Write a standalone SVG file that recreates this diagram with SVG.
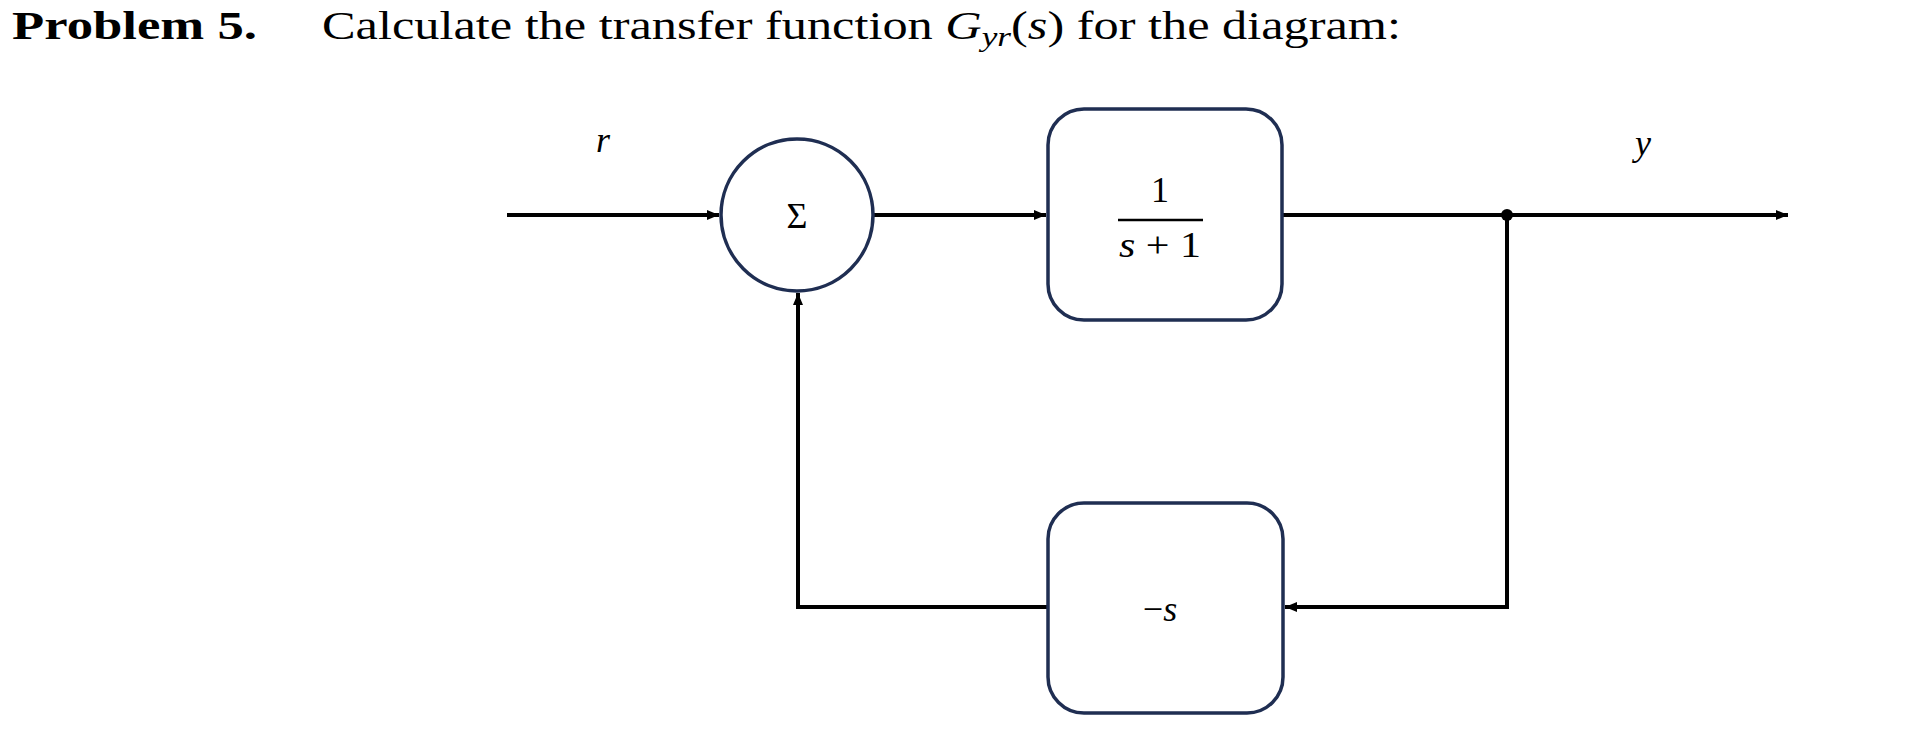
<svg xmlns="http://www.w3.org/2000/svg" width="1924" height="737" viewBox="0 0 1924 737">
<style>
.blk{fill:#fff;stroke:#1f2e52;stroke-width:3.5}
.wire{fill:none;stroke:#000;stroke-width:4;stroke-linejoin:miter}
.math{font-family:"Liberation Serif","DejaVu Serif",serif;fill:#000}
.it{font-style:italic}
.title{font-family:"Liberation Serif","DejaVu Serif",serif;font-size:40px;fill:#000}
</style>
<defs>
<marker id="arr" markerUnits="userSpaceOnUse" markerWidth="14" markerHeight="12" refX="12" refY="6" orient="auto">
<path d="M0,1 L12,6 L0,11 Z" fill="#000"/>
</marker>
</defs>
<rect width="1924" height="737" fill="#fff"/>
<text class="title" x="12" y="39" font-weight="bold" textLength="245" lengthAdjust="spacingAndGlyphs">Problem 5.</text>
<text class="title" x="322" y="39" textLength="1079" lengthAdjust="spacingAndGlyphs">Calculate the transfer function <tspan class="it">G</tspan><tspan class="it" font-size="28" dy="7">yr</tspan><tspan dy="-7">(</tspan><tspan class="it">s</tspan>) for the diagram:</text>

<g id="connectors">
<path class="wire" d="M507,215 H719" marker-end="url(#arr)"/>
<path class="wire" d="M873,215 H1046" marker-end="url(#arr)"/>
<path class="wire" d="M1282,215 H1788" marker-end="url(#arr)"/>
<path class="wire" d="M1507,215 V607 H1285" marker-end="url(#arr)"/>
<path class="wire" d="M1048,607 H798 V293" marker-end="url(#arr)"/>
<circle cx="1507" cy="215" r="6" fill="#000"/>
<text class="math it" x="603" y="152" font-size="36" text-anchor="middle">r</text>
<text class="math it" x="1643" y="155" font-size="36" text-anchor="middle">y</text>
</g>

<g id="sum">
<circle class="blk" cx="797" cy="215" r="76"/>
<text class="math" x="797" y="228" font-size="36" text-anchor="middle">Σ</text>
</g>

<g id="plant">
<rect class="blk" x="1048" y="109" width="234" height="211" rx="36"/>
<text class="math" x="1160" y="202" font-size="36" text-anchor="middle">1</text>
<line x1="1118" y1="220" x2="1203" y2="220" stroke="#000" stroke-width="2.5"/>
<text class="math" x="1160" y="257" font-size="36" text-anchor="middle" textLength="82" lengthAdjust="spacingAndGlyphs"><tspan class="it">s</tspan> + 1</text>
</g>

<g id="feedback">
<rect class="blk" x="1048" y="503" width="235" height="210" rx="36"/>
<text class="math" x="1160" y="621" font-size="36" text-anchor="middle">−<tspan class="it">s</tspan></text>
</g>
</svg>
